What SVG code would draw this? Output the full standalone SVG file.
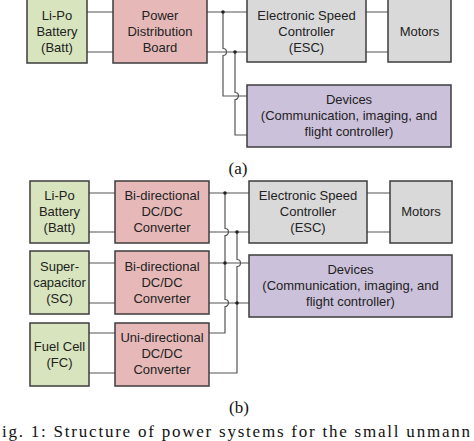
<svg xmlns="http://www.w3.org/2000/svg" width="474" height="441" viewBox="0 0 474 441">
<style>
.box{stroke:#3d3d3d;stroke-width:1.5}
.g{fill:#d7e4bd}.r{fill:#e6b9b8}.gr{fill:#d9d9d9}.p{fill:#ccc1da}
.t{font-family:"Liberation Sans",Arial,sans-serif;font-size:13px;fill:#222;text-anchor:middle}
.w{fill:none;stroke:#555;stroke-width:1.2}
.d{fill:#222}
.cap{font-family:"Liberation Serif","Times New Roman",serif;font-size:17px;fill:#111;text-anchor:middle}
</style>
<rect width="474" height="441" fill="#fff"/>
<g id="connectors">
<!-- (a) -->
<path class="w" d="M87,12H113M87,52H113M366,12H388M366,52H388"/>
<path class="w" d="M207,12H247M207,52H247"/>
<path class="w" d="M223,12V48.5A3.5,3.5 0 0 1 223,55.5V96H247"/>
<path class="w" d="M235,52V92.5A3.5,3.5 0 0 1 235,99.5V135H247"/>
<circle class="d" cx="223" cy="12" r="1.8"/>
<circle class="d" cx="235" cy="52" r="1.8"/>
<!-- (b) -->
<path class="w" d="M89,193H115M89,232H115M89,263H115M89,303H115M89,333H115M89,373H115"/>
<path class="w" d="M367,193H390M367,232H390"/>
<path class="w" d="M209,193H249M209,232H249M209,263H249M209,303H249"/>
<path class="w" d="M209,333H225V306.5A3.5,3.5 0 0 0 225,299.5V235.5A3.5,3.5 0 0 0 225,228.5V193"/>
<path class="w" d="M209,373H237V266.5A3.5,3.5 0 0 0 237,259.5V232"/>
<circle class="d" cx="225" cy="193" r="1.8"/>
<circle class="d" cx="225" cy="263" r="1.8"/>
<circle class="d" cx="237" cy="232" r="1.8"/>
<circle class="d" cx="237" cy="303" r="1.8"/>
</g>
<g id="a-batt"><rect class="box g" x="27" y="-1" width="60" height="64"/>
<text class="t" x="57" y="19.5">Li-Po</text><text class="t" x="57" y="35.5">Battery</text><text class="t" x="57" y="51.5">(Batt)</text></g>
<g id="a-pdb"><rect class="box r" x="113" y="-1" width="94" height="64"/>
<text class="t" x="160" y="19.5">Power</text><text class="t" x="160" y="35.5">Distribution</text><text class="t" x="160" y="51.5">Board</text></g>
<g id="a-esc"><rect class="box gr" x="247" y="-1" width="119" height="63"/>
<text class="t" x="306.5" y="19.5">Electronic Speed</text><text class="t" x="306.5" y="35.5">Controller</text><text class="t" x="306.5" y="51.5">(ESC)</text></g>
<g id="a-motors"><rect class="box gr" x="388" y="-1" width="63" height="63"/>
<text class="t" x="419.5" y="35.5">Motors</text></g>
<g id="a-devices"><rect class="box p" x="247" y="85" width="204" height="62"/>
<text class="t" x="349" y="103.5">Devices</text><text class="t" x="349" y="119.5">(Communication, imaging, and</text><text class="t" x="349" y="135.5">flight controller)</text></g>
<text class="cap" x="238" y="174">(a)</text>
<g id="b-batt"><rect class="box g" x="30" y="181" width="59" height="62"/>
<text class="t" x="59.5" y="200">Li-Po</text><text class="t" x="59.5" y="216">Battery</text><text class="t" x="59.5" y="232">(Batt)</text></g>
<g id="b-sc"><rect class="box g" x="30" y="251" width="59" height="63"/>
<text class="t" x="59.5" y="271">Super-</text><text class="t" x="59.5" y="287">capacitor</text><text class="t" x="59.5" y="303">(SC)</text></g>
<g id="b-fc"><rect class="box g" x="30" y="323" width="59" height="63"/>
<text class="t" x="59.5" y="351">Fuel Cell</text><text class="t" x="59.5" y="367">(FC)</text></g>
<g id="b-conv1"><rect class="box r" x="115" y="181" width="94" height="62"/>
<text class="t" x="162" y="200">Bi-directional</text><text class="t" x="162" y="216">DC/DC</text><text class="t" x="162" y="232">Converter</text></g>
<g id="b-conv2"><rect class="box r" x="115" y="251" width="94" height="63"/>
<text class="t" x="162" y="271">Bi-directional</text><text class="t" x="162" y="287">DC/DC</text><text class="t" x="162" y="303">Converter</text></g>
<g id="b-conv3"><rect class="box r" x="115" y="323" width="94" height="63"/>
<text class="t" x="162" y="342">Uni-directional</text><text class="t" x="162" y="358">DC/DC</text><text class="t" x="162" y="374">Converter</text></g>
<g id="b-esc"><rect class="box gr" x="249" y="181" width="118" height="62"/>
<text class="t" x="308" y="200">Electronic Speed</text><text class="t" x="308" y="216">Controller</text><text class="t" x="308" y="232">(ESC)</text></g>
<g id="b-motors"><rect class="box gr" x="390" y="181" width="62" height="62"/>
<text class="t" x="421" y="216">Motors</text></g>
<g id="b-devices"><rect class="box p" x="249" y="255" width="203" height="62"/>
<text class="t" x="350.5" y="274">Devices</text><text class="t" x="350.5" y="290">(Communication, imaging, and</text><text class="t" x="350.5" y="306">flight controller)</text></g>
<text class="cap" x="239" y="413">(b)</text>
<text x="2" y="437" font-family="'Liberation Serif','Times New Roman',serif" font-size="17" fill="#111" textLength="468" lengthAdjust="spacing">ig. 1: Structure of power systems for the small unmann</text>
</svg>
